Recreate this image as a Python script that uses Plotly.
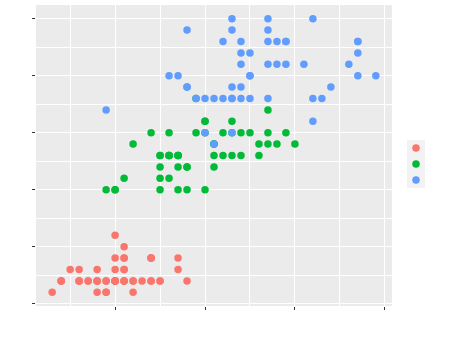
import plotly.graph_objects as go

species = ["setosa", "versicolor", "virginica"]
colors = ["#F8766D", "#00BA38", "#619CFF"]

setosa_sl = [5.1,4.9,4.7,4.6,5.0,5.4,4.6,5.0,4.4,4.9,5.4,4.8,4.8,4.3,5.8,5.7,5.4,5.1,5.7,5.1,5.4,5.1,4.6,5.1,4.8,5.0,5.0,5.2,5.2,4.7,4.8,5.4,5.2,5.5,4.9,5.0,5.5,4.9,4.4,5.1,5.0,4.5,4.4,5.0,5.1,4.8,5.1,4.6,5.3,5.0]
setosa_pw = [0.2,0.2,0.2,0.2,0.2,0.4,0.3,0.2,0.2,0.1,0.2,0.2,0.1,0.1,0.2,0.4,0.4,0.3,0.3,0.3,0.2,0.4,0.2,0.5,0.2,0.2,0.4,0.2,0.2,0.2,0.2,0.4,0.1,0.2,0.2,0.2,0.2,0.1,0.2,0.2,0.3,0.3,0.2,0.6,0.4,0.3,0.2,0.2,0.2,0.2]

versicolor_sl = [7.0,6.4,6.9,5.5,6.5,5.7,6.3,4.9,6.6,5.2,5.0,5.9,6.0,6.1,5.6,6.7,5.6,5.8,6.2,5.6,5.9,6.1,6.3,6.1,6.4,6.6,6.8,6.7,6.0,5.7,5.5,5.5,5.8,6.0,5.4,6.0,6.7,6.3,5.6,5.5,5.5,6.1,5.8,5.0,5.6,5.7,5.7,6.2,5.1,5.7]
versicolor_pw = [1.4,1.5,1.5,1.3,1.5,1.3,1.6,1.0,1.3,1.4,1.0,1.5,1.0,1.4,1.3,1.4,1.5,1.0,1.5,1.1,1.8,1.3,1.5,1.2,1.3,1.4,1.4,1.7,1.5,1.0,1.1,1.0,1.2,1.6,1.5,1.6,1.5,1.3,1.3,1.3,1.2,1.4,1.2,1.0,1.3,1.2,1.3,1.3,1.1,1.3]

virginica_sl = [6.3,5.8,7.1,6.3,6.5,7.6,4.9,7.3,6.7,7.2,6.5,6.4,6.8,5.7,5.8,6.4,6.5,7.7,7.7,6.0,6.9,5.6,7.7,6.3,6.7,7.2,6.2,6.1,6.4,7.2,7.4,7.9,6.4,6.3,6.1,7.7,6.3,6.4,6.0,6.9,6.7,6.9,5.8,6.8,6.7,6.7,6.3,6.5,6.2,5.9]
virginica_pw = [2.5,1.9,2.1,1.8,2.2,2.1,1.7,1.8,1.8,2.5,2.0,1.9,2.1,2.0,2.4,2.3,1.8,2.2,2.3,1.5,2.3,2.0,2.0,1.8,2.1,1.8,1.8,1.8,2.1,1.6,1.9,2.0,2.2,1.5,1.4,2.3,2.4,1.8,1.8,2.1,2.4,2.3,1.9,2.3,2.5,2.3,1.9,2.0,2.3,1.8]

x_ticks = [5, 6, 7, 8]
x_minor = [4.5, 5.5, 6.5, 7.5]
y_ticks = [0.0, 0.5, 1.0, 1.5, 2.0, 2.5]
y_minor = [0.25, 0.75, 1.25, 1.75, 2.25]

W, H = 474, 338


def fx(p):
    return p / W


def fy(p):
    return 1 - p / H


# panel and legend boxes in pixels
pl, pr, pt, pb = 36, 392, 5, 306
lx0, lx1, ly0, ly1 = 407, 425, 140, 188

fig = go.Figure()

for name, col, xs, ys in zip(species, colors,
                             [setosa_sl, versicolor_sl, virginica_sl],
                             [setosa_pw, versicolor_pw, virginica_pw]):
    fig.add_trace(go.Scatter(x=xs, y=ys, mode="markers", name=name,
                             marker=dict(color=col, size=7.5, line=dict(width=0)),
                             showlegend=False, xaxis="x", yaxis="y"))

# legend keys drawn on a small overlay axis
fig.add_trace(go.Scatter(x=[0.5] * len(species), y=list(range(len(species))), mode="markers",
                         marker=dict(color=colors, size=7.5, line=dict(width=0)),
                         showlegend=False, xaxis="x2", yaxis="y2", hoverinfo="skip"))

# panel background (below grid)
fig.add_shape(type="rect", xref="x domain", yref="y domain", x0=0, x1=1, y0=0, y1=1,
              fillcolor="#EBEBEB", line=dict(width=0), layer="below")
# legend key background
fig.add_shape(type="rect", xref="paper", yref="paper",
              x0=fx(lx0), x1=fx(lx1), y0=fy(ly1), y1=fy(ly0),
              fillcolor="#F2F2F2", line=dict(width=0), layer="below")

fig.update_layout(
    width=W, height=H,
    margin=dict(l=0, r=0, t=0, b=0),
    paper_bgcolor="white",
    plot_bgcolor="rgba(0,0,0,0)",
    showlegend=False,
    xaxis=dict(range=[4.12, 8.08], tickvals=x_ticks, showticklabels=False,
               ticks="outside", ticklen=3, tickwidth=1, tickcolor="#333333",
               showgrid=True, gridcolor="white", gridwidth=1.1,
               zeroline=False, showline=False,
               minor=dict(tickvals=x_minor, showgrid=True,
                          gridcolor="white", gridwidth=0.5, ticks=""),
               domain=[fx(pl), fx(pr)], anchor="y"),
    yaxis=dict(range=[-0.02, 2.62], tickvals=y_ticks, showticklabels=False,
               ticks="outside", ticklen=3, tickwidth=1, tickcolor="#333333",
               showgrid=True, gridcolor="white", gridwidth=1.1,
               zeroline=False, showline=False,
               minor=dict(tickvals=y_minor, showgrid=True,
                          gridcolor="white", gridwidth=0.5, ticks=""),
               domain=[fy(pb), fy(pt)], anchor="x"),
    xaxis2=dict(domain=[fx(lx0), fx(lx1)], range=[0, 1], visible=False,
                anchor="y2", fixedrange=True),
    yaxis2=dict(domain=[fy(ly1), fy(ly0)], range=[2.5, -0.5], visible=False,
                anchor="x2", fixedrange=True),
)

fig.write_html("out.html")
